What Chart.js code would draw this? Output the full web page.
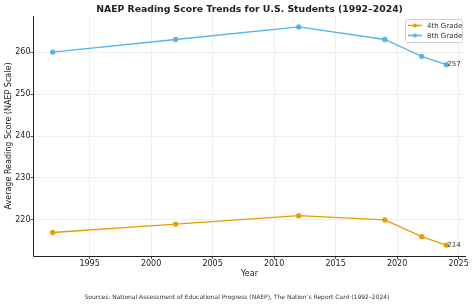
<!DOCTYPE html>
<html><head><meta charset="utf-8">
<script src="https://cdn.jsdelivr.net/npm/chart.js@4/dist/chart.umd.min.js"></script>
<style>html,body{margin:0;padding:0;background:#fff}#wrap{width:474px;height:305px}</style>
</head><body><div id="wrap"><canvas id="c" width="474" height="305"></canvas></div>
<script>
const years = [1992, 2002, 2012, 2019, 2022, 2024];
const grade4 = [217, 219, 221, 220, 216, 214];
const grade8 = [260, 263, 266, 263, 259, 257];
const xTicks = [1995, 2000, 2005, 2010, 2015, 2020, 2025];
const yTicks = [220, 230, 240, 250, 260];
const seriesNames = ['4th Grade', '8th Grade'];
const colors = ['#E69F00', '#56B4E9'];
const titleText = 'NAEP Reading Score Trends for U.S. Students (1992–2024)';
const sourceText = 'Sources: National Assessment of Educational Progress (NAEP), The Nation\u2019s Report Card (1992–2024)';

const FONT = 'DejaVu Sans';

const pts = arr => years.map((y, i) => ({x: y, y: arr[i]}));

const axesTitle = {
  id: 'axesTitle',
  afterDraw(chart) {
    const a = chart.chartArea, ctx = chart.ctx;
    ctx.save();
    ctx.font = 'bold 9.3px ' + FONT;
    ctx.fillStyle = '#222';
    ctx.textAlign = 'center';
    ctx.textBaseline = 'middle';
    ctx.fillText(titleText, (a.left + a.right) / 2, 10);
    ctx.font = '6px ' + FONT;
    ctx.fillStyle = '#333';
    ctx.fillText(sourceText, 237, 297);
    ctx.restore();
  }
};

const insideLegend = {
  id: 'insideLegend',
  afterDraw(chart) {
    const ctx = chart.ctx;
    const x0 = 405, y0 = 19, w = 57, h = 23;
    ctx.save();
    ctx.fillStyle = 'rgba(255,255,255,0.85)';
    ctx.strokeStyle = '#d0d0d0';
    ctx.lineWidth = 1;
    ctx.beginPath();
    ctx.roundRect(x0 + 0.5, y0 + 0.5, w, h, 2);
    ctx.fill(); ctx.stroke();
    ctx.font = '7px ' + FONT;
    ctx.textBaseline = 'middle';
    chart.data.datasets.forEach((ds, i) => {
      const yy = y0 + 6.5 + i * 10;
      ctx.strokeStyle = ds.borderColor;
      ctx.lineWidth = 1.5;
      ctx.beginPath(); ctx.moveTo(x0 + 3, yy); ctx.lineTo(x0 + 17, yy); ctx.stroke();
      ctx.fillStyle = ds.borderColor;
      ctx.beginPath(); ctx.arc(x0 + 10, yy, 2, 0, Math.PI * 2); ctx.fill();
      ctx.fillStyle = '#333';
      ctx.fillText(ds.label, x0 + 22, yy + 0.5);
    });
    ctx.restore();
  }
};

const endLabels = {
  id: 'endLabels',
  afterDatasetsDraw(chart) {
    const ctx = chart.ctx;
    const xs = chart.scales.x, ys = chart.scales.y;
    ctx.save();
    ctx.font = '7px ' + FONT;
    ctx.fillStyle = '#333';
    ctx.textBaseline = 'middle';
    chart.data.datasets.forEach(ds => {
      const p = ds.data[ds.data.length - 1];
      ctx.fillText(String(p.y), xs.getPixelForValue(p.x) + 1, ys.getPixelForValue(p.y));
    });
    ctx.restore();
  }
};

const spines = {
  id: 'spines',
  afterDraw(chart) {
    const a = chart.chartArea, ctx = chart.ctx;
    ctx.save();
    ctx.strokeStyle = '#222';
    ctx.lineWidth = 1;
    ctx.beginPath();
    ctx.moveTo(Math.round(a.left) + 0.5, a.top); ctx.lineTo(Math.round(a.left) + 0.5, Math.round(a.bottom) + 0.5); ctx.lineTo(a.right, Math.round(a.bottom) + 0.5);
    ctx.stroke();
    ctx.restore();
  }
};

new Chart(document.getElementById('c'), {
  type: 'line',
  data: {
    datasets: [
      {label: seriesNames[0], data: pts(grade4), borderColor: colors[0], backgroundColor: colors[0], borderWidth: 1.3, pointRadius: 2, pointHoverRadius: 2, tension: 0},
      {label: seriesNames[1], data: pts(grade8), borderColor: colors[1], backgroundColor: colors[1], borderWidth: 1.3, pointRadius: 2, pointHoverRadius: 2, tension: 0}
    ]
  },
  options: {
    responsive: false,
    animation: false,
    devicePixelRatio: 1,
    layout: {padding: {left: 0, right: 8, top: 16, bottom: 27}},
    plugins: {
      legend: {display: false},
      tooltip: {enabled: false},
      title: {display: false},
      subtitle: {display: false}
    },
    scales: {
      x: {
        type: 'linear', min: 1990.4, max: 2025.6,
        afterBuildTicks: s => { s.ticks = xTicks.map(v => ({value: v})); },
        afterFit: s => { s.height = 22; },
        border: {display: false},
        grid: {color: '#ebebeb', lineWidth: 0.8, tickColor: '#222', tickLength: 3, drawTicks: true},
        ticks: {color: '#222', font: {family: FONT, size: 8, lineHeight: 1}, padding: 1, maxRotation: 0, autoSkip: false, callback: v => String(v)},
        title: {display: true, text: 'Year', color: '#222', font: {family: FONT, size: 8, lineHeight: 1}, padding: {top: 2, bottom: 0}}
      },
      y: {
        min: 211.4, max: 268.6,
        afterBuildTicks: s => { s.ticks = yTicks.map(v => ({value: v})); },
        afterFit: s => { s.width = 33; },
        border: {display: false},
        grid: {color: '#ebebeb', lineWidth: 0.8, tickColor: '#222', tickLength: 2.5, drawTicks: true},
        ticks: {color: '#222', font: {family: FONT, size: 8}, padding: 0, callback: v => String(v)},
        title: {display: true, text: 'Average Reading Score (NAEP Scale)', color: '#222', font: {family: FONT, size: 8}, padding: {top: 4, bottom: 0}}
      }
    }
  },
  plugins: [spines, endLabels, insideLegend, axesTitle]
});
</script></body></html>
